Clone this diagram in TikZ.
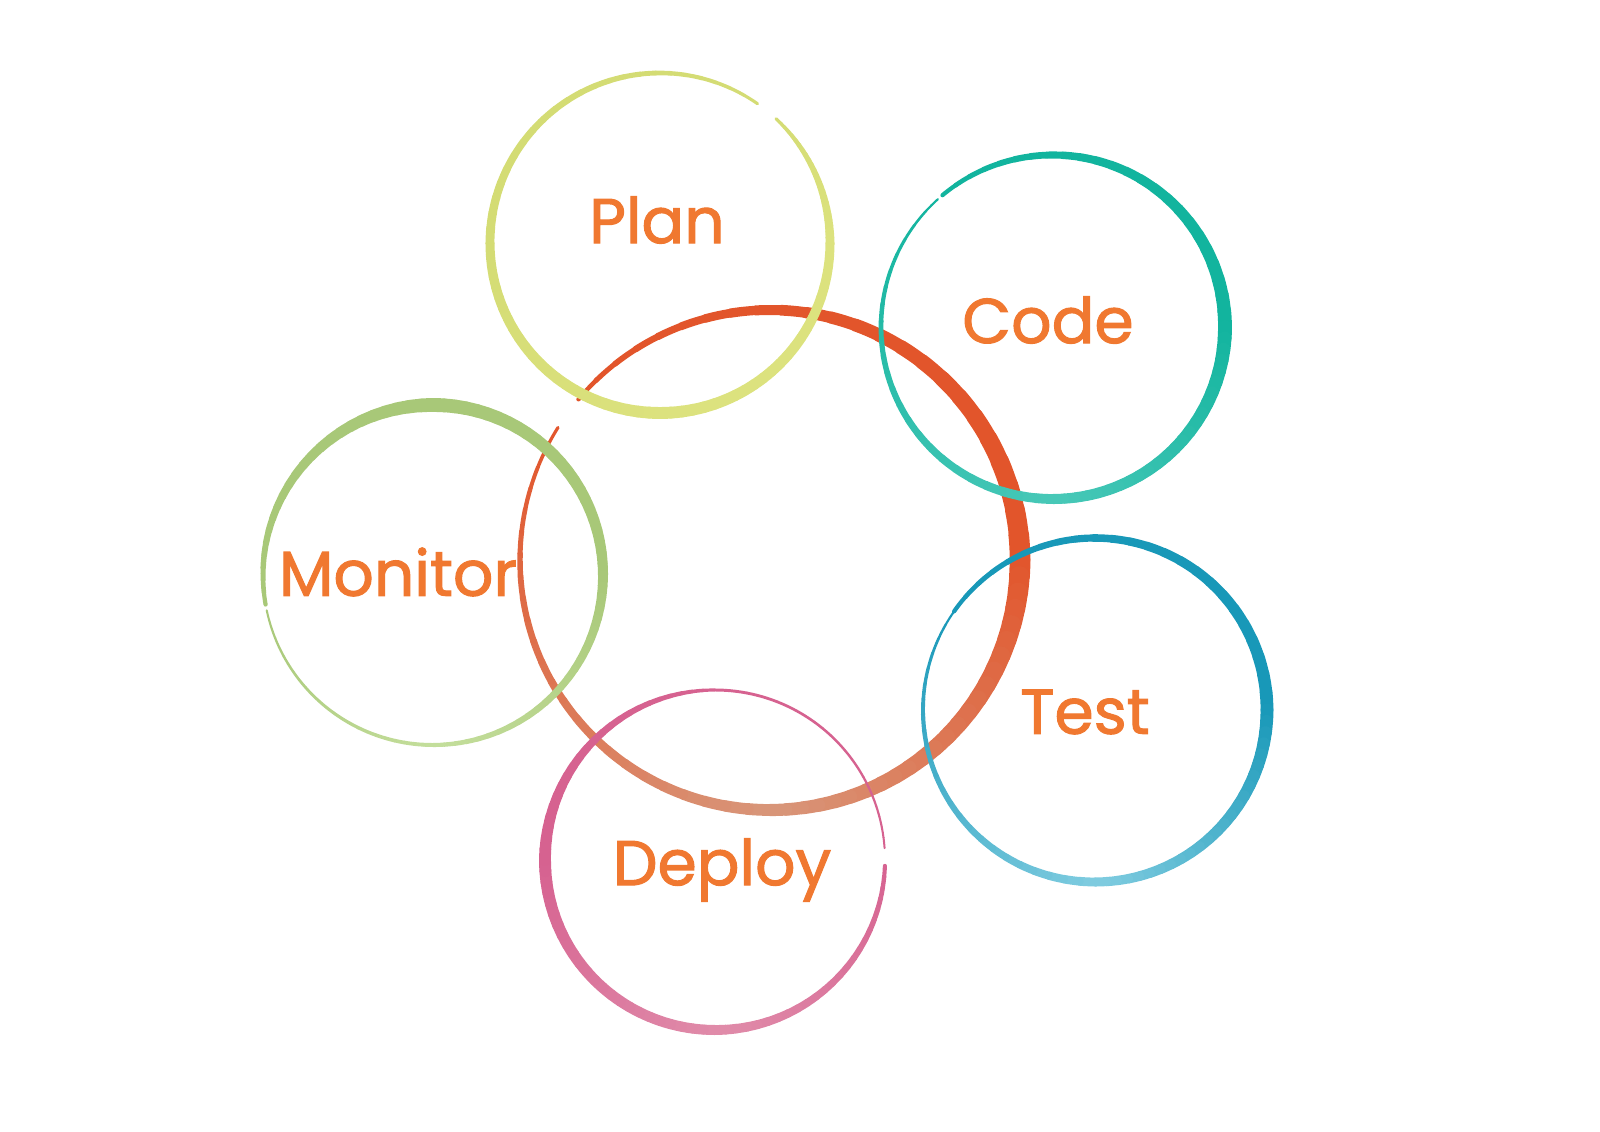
\documentclass[tikz,border=0pt]{standalone}
\usepackage{fontspec}
\setmainfont[FakeBold=1.6]{Poppins}
\definecolor{txt}{HTML}{F07830}
\definecolor{redA}{HTML}{E2552B}
\definecolor{redB}{HTML}{D8967A}
\definecolor{planA}{HTML}{D4DC74}
\definecolor{planB}{HTML}{DCE27E}
\definecolor{codeA}{HTML}{12B49E}
\definecolor{codeB}{HTML}{48C8B8}
\definecolor{testA}{HTML}{1898B8}
\definecolor{testB}{HTML}{80CCE0}
\definecolor{depA}{HTML}{D66290}
\definecolor{depB}{HTML}{E08CAA}
\definecolor{monA}{HTML}{A8C878}
\definecolor{monB}{HTML}{C4DE9C}
\newcommand\brush[9]{%
\foreach \i in {1,...,24}{%
 \pgfmathsetmacro\sa{#4+(#5-#4)*(\i-1)/24}%
 \pgfmathsetmacro\ea{#4+(#5-#4)*\i/24}%
 \pgfmathsetmacro\ww{(#6+(#7-#6)*(\i-0.5)/24)*1.42}%
 \pgfmathsetmacro\pp{100-100*(\i-0.5)/24}%
 \draw[line width=\ww pt, color=#8!\pp!#9, line cap=round] ([shift={(\sa:#3)}]#1,#2) arc[start angle=\sa, end angle=\ea, radius=#3];
}}
\tikzset{lbl/.style={text=txt, font=\fontsize{90}{90}\selectfont}}
\begin{document}
\begin{tikzpicture}[x=0.05cm,y=0.05cm]
\useasboundingbox (0,0) rectangle (1600,1131);
% central
\brush{770}{571}{250}{140}{0}{4}{21}{redA}{redA}
\brush{770}{571}{250}{0}{-90}{21}{12}{redA}{redB}
\brush{770}{571}{250}{-90}{-212}{12}{3}{redB}{redA}
% plan
\brush{660}{888}{170}{47}{0}{3}{9}{planA}{planB}
\brush{660}{888}{170}{0}{-90}{9}{12}{planB}{planB}
\brush{660}{888}{170}{-90}{-180}{12}{9}{planB}{planA}
\brush{660}{888}{170}{-180}{-305}{9}{3}{planA}{planA}
% code
\brush{1053}{804}{172}{130}{0}{4}{14}{codeA}{codeA}
\brush{1053}{804}{172}{0}{-90}{14}{10}{codeA}{codeB}
\brush{1053}{804}{172}{-90}{-228}{10}{2}{codeB}{codeA}
% test
\brush{1095}{421}{172}{145}{0}{4}{13}{testA}{testA}
\brush{1095}{421}{172}{0}{-90}{13}{9}{testA}{testB}
\brush{1095}{421}{172}{-90}{-215}{9}{2}{testB}{testA}
% deploy
\brush{715}{271}{170}{-2}{-90}{4}{10}{depA}{depB}
\brush{715}{271}{170}{-90}{-180}{10}{12}{depB}{depA}
\brush{715}{271}{170}{-180}{-270}{12}{3}{depA}{depA}
\brush{715}{271}{170}{-270}{-356}{3}{2}{depA}{depA}
% monitor
\brush{433}{556}{170}{190}{90}{4}{14}{monA}{monA}
\brush{433}{556}{170}{90}{0}{14}{10}{monA}{monA}
\brush{433}{556}{170}{0}{-90}{10}{4}{monA}{monB}
\brush{433}{556}{170}{-90}{-168}{4}{2}{monB}{monA}
% labels
\node[lbl] (plan) at (657,911) {Plan};
\node[lbl] (code) at (1048,811) {Code};
\node[lbl] (test) at (1085,419) {Test};
\node[lbl] (deploy) at (722,261) {Deploy};
\node[lbl] (monitor) at (398,559) {Monitor};
\end{tikzpicture}
\end{document}
